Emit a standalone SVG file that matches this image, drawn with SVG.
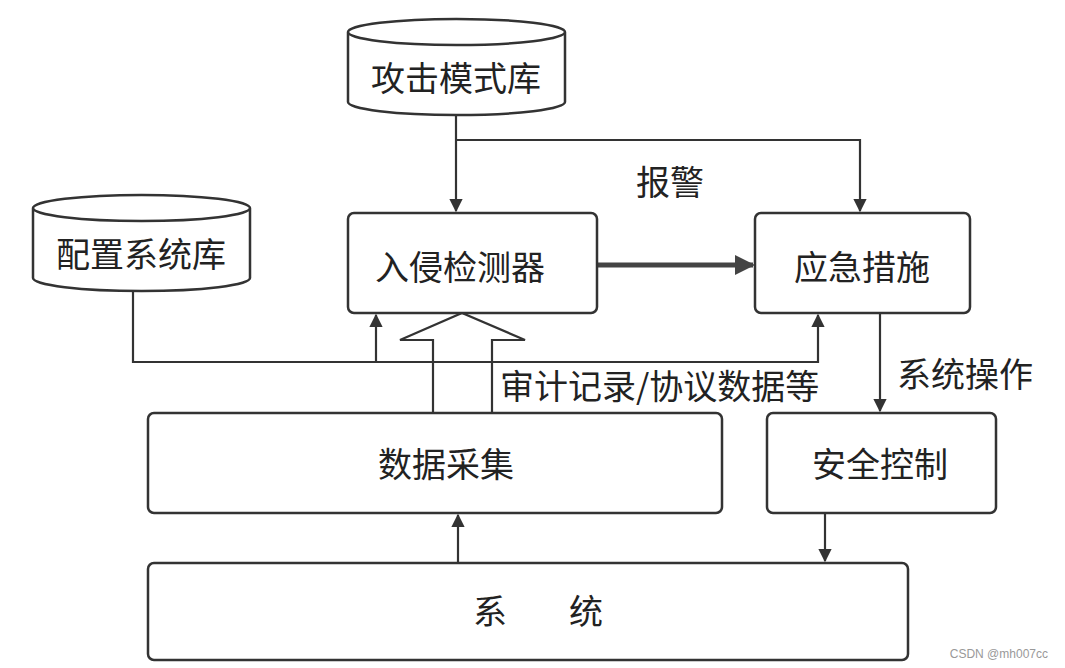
<svg xmlns="http://www.w3.org/2000/svg" width="1065" height="668" viewBox="0 0 1065 668">
<defs>
<style>
.b{fill:#fff;stroke:#333;stroke-width:2.5}
.t{font-family:"Noto Sans CJK SC","Noto Sans",sans-serif;font-size:34px;fill:#222;text-anchor:middle}
.l{fill:none;stroke:#333;stroke-width:2.2}
</style>
<marker id="a" viewBox="0 0 10 10" refX="9" refY="5" markerWidth="6" markerHeight="6" orient="auto"><path d="M0,0L10,5L0,10z" fill="#333"/></marker>
<marker id="a2" viewBox="0 0 10 10" refX="9" refY="5" markerWidth="4" markerHeight="4" orient="auto"><path d="M0,0L10,5L0,10z" fill="#444"/></marker>
</defs>
<rect width="1065" height="668" fill="#fff"/>
<g id="connectors">
<path class="l" d="M456,115V211" marker-end="url(#a)"/>
<path class="l" d="M456,140H860V211" marker-end="url(#a)"/>
<path d="M597,265H753" fill="none" stroke="#444" stroke-width="5" marker-end="url(#a2)"/>
<path class="l" d="M133,290V362H818V315" marker-end="url(#a)"/>
<path class="l" d="M376,362V315" marker-end="url(#a)"/>
<path class="l" d="M433,413V340H400L462,313L525,340H492V413" fill="#fff"/>
<path class="l" d="M880,313V411" marker-end="url(#a)"/>
<path class="l" d="M458,563V515" marker-end="url(#a)"/>
<path class="l" d="M825,513V561" marker-end="url(#a)"/>
<text class="t" x="670" y="195">报警</text>
<text class="t" x="500" y="399" style="text-anchor:start">审计记录/协议数据等</text>
<text class="t" x="897" y="387" style="text-anchor:start">系统操作</text>
</g>
<g id="n1"><path class="b" d="M348,32V102A108,13 0 0 0 565,102V32A108,13 0 0 0 348,32A108,13 0 0 0 565,32"/><text class="t" x="456" y="91">攻击模式库</text></g>
<g id="n2"><path class="b" d="M33,208V278A108,13 0 0 0 250,278V208A108,13 0 0 0 33,208A108,13 0 0 0 250,208"/><text class="t" x="141" y="267">配置系统库</text></g>
<g id="n3"><rect class="b" x="348" y="213" width="249" height="100" rx="6"/><text class="t" x="460" y="280">入侵检测器</text></g>
<g id="n4"><rect class="b" x="755" y="213" width="215" height="100" rx="6"/><text class="t" x="862" y="280">应急措施</text></g>
<g id="n5"><rect class="b" x="148" y="413" width="574" height="100" rx="6"/><text class="t" x="446" y="477">数据采集</text></g>
<g id="n6"><rect class="b" x="767" y="413" width="229" height="100" rx="6"/><text class="t" x="880" y="477">安全控制</text></g>
<g id="n7"><rect class="b" x="148" y="563" width="760" height="97" rx="6"/><text class="t" x="490" y="624">系</text><text class="t" x="586" y="624">统</text></g>
<text x="1048" y="658" font-family="Liberation Sans,sans-serif" font-size="12" fill="#999" text-anchor="end">CSDN @mh007cc</text>
</svg>
